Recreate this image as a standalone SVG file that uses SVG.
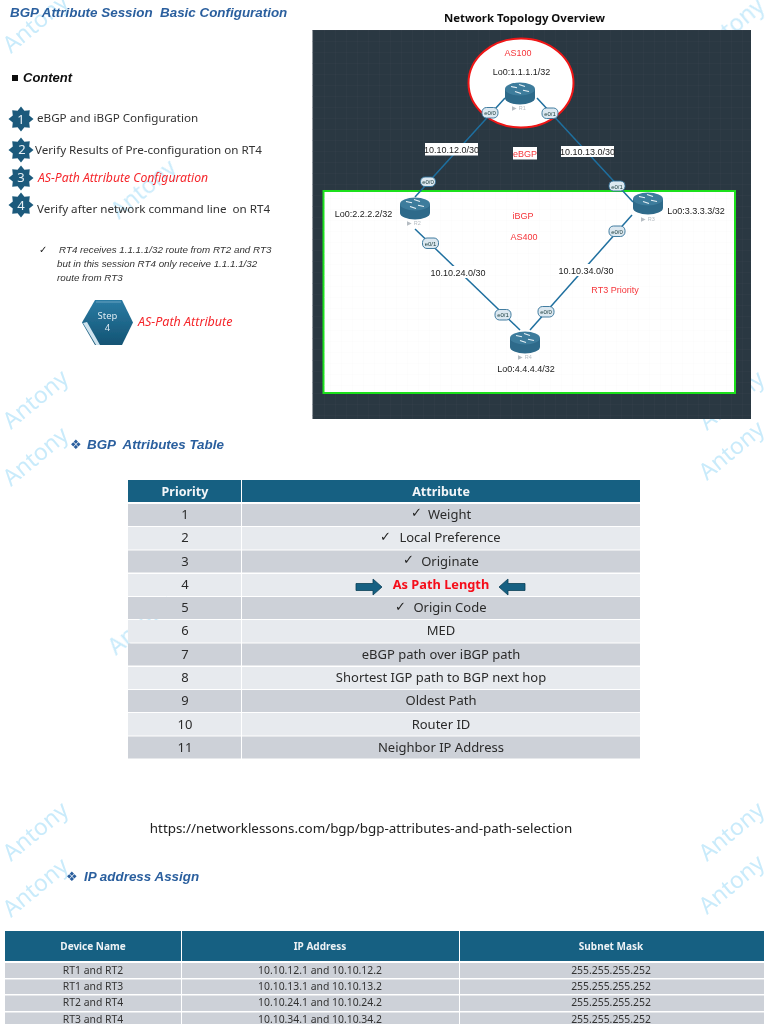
<svg xmlns="http://www.w3.org/2000/svg" width="768" height="1024" viewBox="0 0 768 1024">
<style>
text{font-family:"Noto Sans","Liberation Sans",sans-serif}
.wm{font-family:"Liberation Sans",sans-serif;font-size:23px;fill:#c9ebfb}
.h{font-family:"Liberation Sans",sans-serif;font-weight:bold;font-style:italic;fill:#2a5f9e;font-size:13.4px}
.li{font-size:11.65px;fill:#333}
.redi{font-size:12.2px;fill:#f5262b;font-style:italic}
.ar{font-family:"Liberation Sans",sans-serif;font-size:9px;fill:#222}
.rl{font-family:"Liberation Sans",sans-serif;font-size:9px;fill:#f5353a}
.it{font-family:"Liberation Sans",sans-serif;font-style:italic;font-size:9.8px;fill:#333}
.th{font-weight:bold;fill:#f2f5f8;font-size:12.5px;text-anchor:middle}
.td{font-size:13px;fill:#2b2b2b;text-anchor:middle}
.ck{font-family:"DejaVu Sans",sans-serif;font-size:13px;fill:#222}
.th2{font-weight:bold;fill:#eef2f5;font-size:10px;text-anchor:middle}
.td2{font-size:10.4px;fill:#333;text-anchor:middle}
.hd{fill:#156082}.a{fill:#cdd1d8}.b{fill:#e7eaee}
.lnk{stroke:#1f6f9f;stroke-width:1.5;fill:none}
.pill{fill:#dce8f0;stroke:#2f6f96;stroke-width:.9}
.pt{font-family:"Liberation Sans",sans-serif;font-size:6px;fill:#244;text-anchor:middle}
.box{fill:#fff}
.star{fill:#1c5a7c}
.num{font-size:13px;fill:#e8f1f6;text-anchor:middle}
.sm{font-family:"Liberation Sans",sans-serif;font-size:5.5px;fill:#b5bcc2;text-anchor:middle}
</style>
<defs>
<filter id="soft" filterUnits="userSpaceOnUse" x="0" y="0" width="768" height="1024"><feGaussianBlur stdDeviation="0.35"/></filter>
<pattern id="grid" width="11" height="11" patternUnits="userSpaceOnUse" x="313" y="30">
<path d="M11 0H0V11" fill="none" stroke="#35434e" stroke-width=".6"/>
</pattern>
<pattern id="grid2" width="11" height="11" patternUnits="userSpaceOnUse">
<path d="M11 0H0V11" fill="none" stroke="#f6f7f8" stroke-width=".5"/>
</pattern>
<linearGradient id="hex" x1="0" y1="0" x2="0" y2="1"><stop offset="0" stop-color="#2b7ba3"/><stop offset="1" stop-color="#135474"/></linearGradient>
<polygon id="st" points="0,-12.5 3.4,-8.2 8.8,-8.8 8.2,-3.4 12.5,0 8.2,3.4 8.8,8.8 3.4,8.2 0,12.5 -3.4,8.2 -8.8,8.8 -8.2,3.4 -12.5,0 -8.2,-3.4 -8.8,-8.8 -3.4,-8.2" class="star"/>
<g id="rt">
<path d="M-15 -4V5A15 6.500 0 0 0 15 5V-4Z" fill="#2f6a8a"/>
<ellipse cx="0" cy="-4" rx="15" ry="6.500" fill="#3d7c9c"/>
<path d="M-9 -6.500L-3 -5.200M9 -1.500L3 -2.800M-1 -8.500L5 -6.500M1 0.500L-5 -1.500" stroke="#e8f1f6" stroke-width="1.100" fill="none"/>
</g>
<path id="ar" d="M0 -3.500H17V-8L26 0L17 8V3.500H0Z" fill="#156082" stroke="#0d3f57" stroke-width=".8"/>
</defs>

<rect width="768" height="1024" fill="#fff"/>
<g filter="url(#soft)">

<g id="watermarks" class="wm">
<text transform="translate(11,54) rotate(-40)">Antony</text>
<text transform="translate(119,220) rotate(-40)">Antony</text>
<text transform="translate(11,430) rotate(-40)">Antony</text>
<text transform="translate(11,487) rotate(-40)">Antony</text>
<text transform="translate(707,58) rotate(-40)">Antony</text>
<text transform="translate(707,431) rotate(-40)">Antony</text>
<text transform="translate(707,481) rotate(-40)">Antony</text>
<text transform="translate(116,656) rotate(-40)">Antony</text>
<text transform="translate(11,862) rotate(-40)">Antony</text>
<text transform="translate(11,918) rotate(-40)">Antony</text>
<text transform="translate(707,862) rotate(-40)">Antony</text>
<text transform="translate(707,915) rotate(-40)">Antony</text>
</g>

<g id="intro">
<text class="h" x="10" y="17" xml:space="preserve">BGP Attribute Session  Basic Configuration</text>
<rect x="12" y="75" width="6" height="6" fill="#111"/>
<text x="23" y="82" style="font-family:'Liberation Sans',sans-serif;font-weight:bold;font-style:italic;font-size:13px" fill="#111">Content</text>
</g>

<g id="list">
<use href="#st" x="21" y="119"/><text class="num" x="21" y="124">1</text>
<use href="#st" x="21" y="150"/><text class="num" x="22" y="154">2</text>
<use href="#st" x="21" y="178"/><text class="num" x="21" y="182">3</text>
<use href="#st" x="21" y="205"/><text class="num" x="21" y="210">4</text>
<text class="li" x="37" y="122">eBGP and iBGP Configuration</text>
<text class="li" x="35" y="154">Verify Results of Pre-configuration on RT4</text>
<text class="redi" x="38" y="182">AS-Path Attribute Configuration</text>
<text class="li" x="37" y="213" xml:space="preserve">Verify after network command line  on RT4</text>
<text class="ck" x="39" y="253" style="font-size:10px">✓</text>
<text class="it" x="59" y="253">RT4 receives 1.1.1.1/32 route from RT2 and RT3</text>
<text class="it" x="57" y="267">but in this session RT4 only receive 1.1.1.1/32</text>
<text class="it" x="57" y="281">route from RT3</text>
</g>

<g id="step4">
<polygon points="95,300 122,300 133,322.500 122,345 95,345 82,322.500" fill="url(#hex)"/>
<path d="M83 323L96 345H100L87 322Z" fill="#cfe3ee"/>
<path d="M96 302H121" stroke="#6aa3c0" stroke-width="1"/>
<text x="107.500" y="319" font-size="9.500" fill="#dbe9f1" text-anchor="middle">Step</text>
<text x="107.500" y="331" font-size="9.500" fill="#dbe9f1" text-anchor="middle">4</text>
<text x="138" y="326" class="redi" style="font-size:12.500px">AS-Path Attribute</text>
</g>

<text x="524.500" y="22" text-anchor="middle" font-weight="bold" font-size="11.400" fill="#111">Network Topology Overview</text>

<g id="panel">
<rect x="312.500" y="30" width="438.500" height="389" fill="#2a3742"/>
<rect x="312.500" y="30" width="438.500" height="389" fill="url(#grid)"/>
<rect x="323.500" y="191" width="411.500" height="202" fill="#fff" stroke="#1fe01f" stroke-width="2"/>
<rect x="324.500" y="192" width="409.500" height="200" fill="url(#grid2)"/>
<ellipse cx="521" cy="83" rx="52.500" ry="44.500" fill="#fff" stroke="#f01818" stroke-width="2"/>
</g>

<g id="connectors">
<path class="lnk" d="M505 98L415 197"/>
<path class="lnk" d="M537 98L633 202"/>
<path class="lnk" d="M415 229L520 330"/>
<path class="lnk" d="M530 330L632 215"/>
</g>

<g id="link-labels">
<rect class="box" x="425" y="143" width="53" height="12.500"/>
<text class="ar" x="451.500" y="152.500" text-anchor="middle">10.10.12.0/30</text>
<rect class="box" x="561" y="146" width="53" height="11"/>
<text class="ar" x="587.500" y="154.500" text-anchor="middle">10.10.13.0/30</text>
<rect class="box" x="513" y="147" width="24" height="12.500"/>
<text class="rl" x="525" y="156.500" text-anchor="middle">eBGP</text>
<rect class="box" x="431" y="266" width="54" height="12"/>
<text class="ar" x="458" y="275.500" text-anchor="middle">10.10.24.0/30</text>
<rect class="box" x="558" y="264" width="57" height="12"/>
<text class="ar" x="586" y="273.500" text-anchor="middle">10.10.34.0/30</text>
<g id="pills">
<rect class="pill" x="482" y="107.500" width="16" height="10.500" rx="4.500"/><text class="pt" x="490" y="115">e0/0</text>
<rect class="pill" x="542" y="108" width="16" height="10.500" rx="4.500"/><text class="pt" x="550" y="115.500">e0/1</text>
<rect class="pill" x="420.500" y="177" width="15" height="9.500" rx="4.500"/><text class="pt" x="428" y="184">e0/0</text>
<rect class="pill" x="609" y="181" width="16" height="10" rx="4.500"/><text class="pt" x="617" y="188.500">e0/1</text>
<rect class="pill" x="422.500" y="238" width="16" height="10.500" rx="4.500"/><text class="pt" x="430.500" y="245.500">e0/1</text>
<rect class="pill" x="609" y="226" width="16" height="10.500" rx="4.500"/><text class="pt" x="617" y="233.500">e0/0</text>
<rect class="pill" x="495" y="309.500" width="16" height="10.500" rx="4.500"/><text class="pt" x="503" y="317">e0/1</text>
<rect class="pill" x="538" y="306.500" width="16" height="10.500" rx="4.500"/><text class="pt" x="546" y="314">e0/0</text>
</g>
</g>

<g id="R1"><use href="#rt" x="520" y="93"/><text class="sm" x="519" y="110">▶ R1</text><text class="rl" x="518" y="56" text-anchor="middle">AS100</text><text class="ar" x="521.500" y="75" text-anchor="middle">Lo0:1.1.1.1/32</text></g>
<g id="R2"><use href="#rt" x="415" y="208"/><text class="sm" x="414" y="225">▶ R2</text><text class="ar" x="363.500" y="217" text-anchor="middle">Lo0:2.2.2.2/32</text></g>
<g id="R3"><use href="#rt" x="648" y="203"/><text class="sm" x="648" y="221">▶ R3</text><text class="ar" x="696" y="214" text-anchor="middle">Lo0:3.3.3.3/32</text></g>
<g id="R4"><use href="#rt" x="525" y="342"/><text class="sm" x="525" y="359">▶ R4</text><text class="ar" x="526" y="372" text-anchor="middle">Lo0:4.4.4.4/32</text></g>
<g id="as-labels">
<text class="rl" x="523" y="219" text-anchor="middle">iBGP</text>
<text class="rl" x="524" y="240" text-anchor="middle">AS400</text>
<text class="rl" x="615" y="292.500" text-anchor="middle">RT3 Priority</text>
</g>

<g id="sec1">
<text class="ck" x="70" y="449" style="fill:#2a5f9e">❖</text>
<text class="h" x="87" y="449" xml:space="preserve">BGP  Attributes Table</text>
</g>

<g id="table1">
<rect class="hd" x="128" y="480" width="113" height="22"/><rect class="hd" x="242" y="480" width="398" height="22"/>
<rect class="a" x="128" y="504" width="113" height="22"/><rect class="a" x="242" y="504" width="398" height="22"/>
<rect class="b" x="128" y="527" width="113" height="22.500"/><rect class="b" x="242" y="527" width="398" height="22.500"/>
<rect class="a" x="128" y="550.500" width="113" height="22"/><rect class="a" x="242" y="550.500" width="398" height="22"/>
<rect class="b" x="128" y="574" width="113" height="22"/><rect class="b" x="242" y="574" width="398" height="22"/>
<rect class="a" x="128" y="597" width="113" height="22"/><rect class="a" x="242" y="597" width="398" height="22"/>
<rect class="b" x="128" y="620" width="113" height="22.500"/><rect class="b" x="242" y="620" width="398" height="22.500"/>
<rect class="a" x="128" y="643.500" width="113" height="22"/><rect class="a" x="242" y="643.500" width="398" height="22"/>
<rect class="b" x="128" y="667" width="113" height="22"/><rect class="b" x="242" y="667" width="398" height="22"/>
<rect class="a" x="128" y="690" width="113" height="22"/><rect class="a" x="242" y="690" width="398" height="22"/>
<rect class="b" x="128" y="713" width="113" height="22.500"/><rect class="b" x="242" y="713" width="398" height="22.500"/>
<rect class="a" x="128" y="736.500" width="113" height="22"/><rect class="a" x="242" y="736.500" width="398" height="22"/>
<text class="th" x="185" y="496">Priority</text><text class="th" x="441" y="496">Attribute</text>
<text class="td" x="185" y="519">1</text><text class="td" x="449.500" y="519">Weight</text><text class="ck" x="411" y="517">✓</text>
<text class="td" x="185" y="542">2</text><text class="td" x="450" y="542">Local Preference</text><text class="ck" x="380" y="541">✓</text>
<text class="td" x="185" y="566">3</text><text class="td" x="450" y="566">Originate</text><text class="ck" x="403" y="564">✓</text>
<text class="td" x="185" y="589">4</text><text x="441" y="589" text-anchor="middle" font-weight="bold" font-size="12.800" fill="#f5101a">As Path Length</text>
<use href="#ar" x="356" y="587"/><use href="#ar" transform="translate(525,587) scale(-1,1)"/>
<text class="td" x="185" y="612">5</text><text class="td" x="450" y="612">Origin Code</text><text class="ck" x="395" y="611">✓</text>
<text class="td" x="185" y="635">6</text><text class="td" x="441" y="635">MED</text>
<text class="td" x="185" y="659">7</text><text class="td" x="441" y="659">eBGP path over iBGP path</text>
<text class="td" x="185" y="682">8</text><text class="td" x="441" y="682">Shortest IGP path to BGP next hop</text>
<text class="td" x="185" y="705">9</text><text class="td" x="441" y="705">Oldest Path</text>
<text class="td" x="185" y="729">10</text><text class="td" x="441" y="729">Router ID</text>
<text class="td" x="185" y="752">11</text><text class="td" x="441" y="752">Neighbor IP Address</text>
</g>

<text x="361" y="833" text-anchor="middle" font-size="13.400" fill="#222">https://networklessons.com/bgp/bgp-attributes-and-path-selection</text>

<g id="sec2">
<text class="ck" x="66" y="881" style="fill:#2a5f9e">❖</text>
<text class="h" x="84" y="881">IP address Assign</text>
</g>

<g id="table2">
<rect class="hd" x="5" y="931" width="176" height="30"/><rect class="hd" x="182" y="931" width="277" height="30"/><rect class="hd" x="460" y="931" width="304" height="30"/>
<rect class="a" x="5" y="963" width="176" height="15"/><rect class="a" x="182" y="963" width="277" height="15"/><rect class="a" x="460" y="963" width="304" height="15"/>
<rect class="a" x="5" y="979.500" width="176" height="14.500"/><rect class="a" x="182" y="979.500" width="277" height="14.500"/><rect class="a" x="460" y="979.500" width="304" height="14.500"/>
<rect class="a" x="5" y="995.500" width="176" height="15.500"/><rect class="a" x="182" y="995.500" width="277" height="15.500"/><rect class="a" x="460" y="995.500" width="304" height="15.500"/>
<rect class="a" x="5" y="1012.500" width="176" height="11.500"/><rect class="a" x="182" y="1012.500" width="277" height="11.500"/><rect class="a" x="460" y="1012.500" width="304" height="11.500"/>
<text class="th2" x="93" y="950">Device Name</text><text class="th2" x="320" y="950">IP Address</text><text class="th2" x="611" y="950">Subnet Mask</text>
<text class="td2" x="93" y="974">RT1 and RT2</text><text class="td2" x="320" y="974">10.10.12.1 and 10.10.12.2</text><text class="td2" x="611" y="974">255.255.255.252</text>
<text class="td2" x="93" y="990">RT1 and RT3</text><text class="td2" x="320" y="990">10.10.13.1 and 10.10.13.2</text><text class="td2" x="611" y="990">255.255.255.252</text>
<text class="td2" x="93" y="1006">RT2 and RT4</text><text class="td2" x="320" y="1006">10.10.24.1 and 10.10.24.2</text><text class="td2" x="611" y="1006">255.255.255.252</text>
<text class="td2" x="93" y="1023">RT3 and RT4</text><text class="td2" x="320" y="1023">10.10.34.1 and 10.10.34.2</text><text class="td2" x="611" y="1023">255.255.255.252</text>
</g>
</g>
</svg>
